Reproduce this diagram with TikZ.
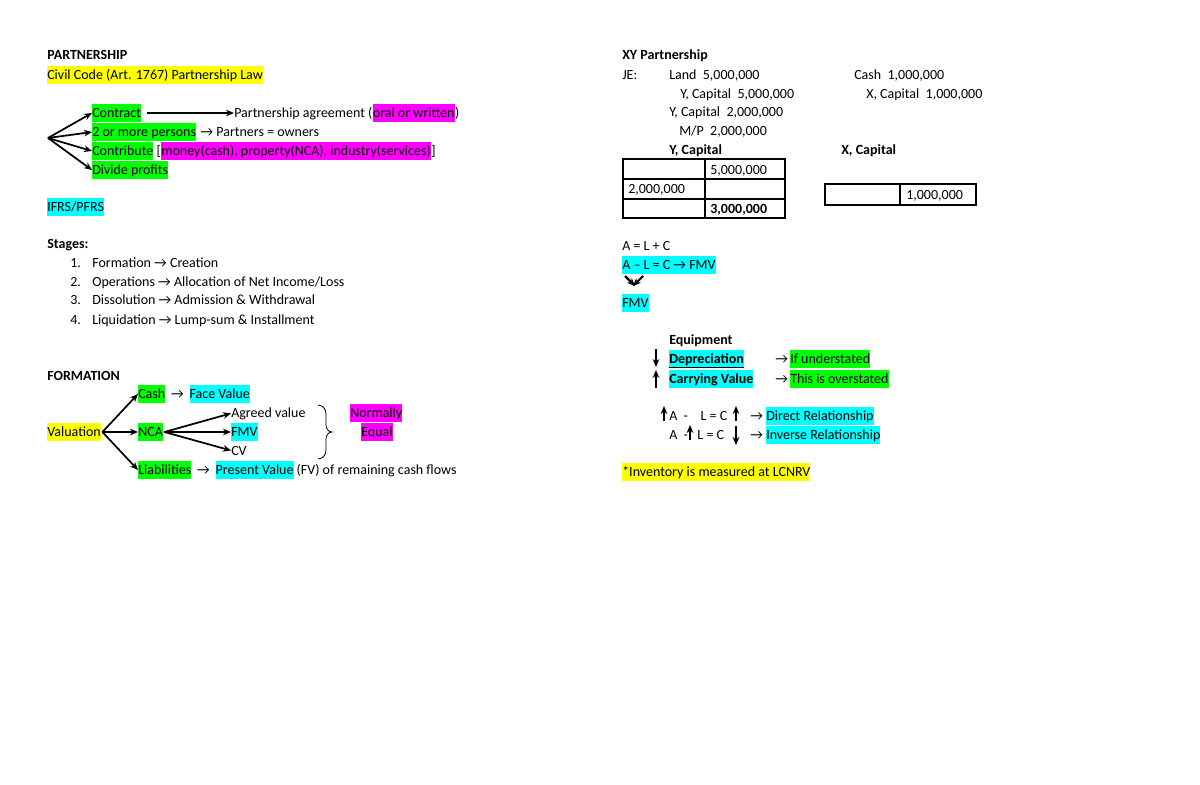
\documentclass[tikz,border=0pt]{standalone}
\usepackage{fontspec}
\setmainfont{Carlito}
\usetikzlibrary{arrows.meta}
\begin{document}
\begin{tikzpicture}[x=0.75pt,y=-0.75pt,font=\fontsize{10.5pt}{12pt}\selectfont,
  t/.style={inner sep=0pt,anchor=base west},
  hl/.style={t,inner ysep=1.5pt,text height=8.5pt,text depth=2.5pt,fill=#1},
  ar/.style={-{Stealth[length=6pt,width=5pt]},line width=1.3pt},
  tb/.style={draw,line width=0.8pt}]
\useasboundingbox (0,0) rectangle (1200,785);
\definecolor{hy}{RGB}{255,255,0}\definecolor{hg}{RGB}{0,255,0}
\definecolor{hm}{RGB}{255,0,255}\definecolor{hc}{RGB}{0,255,255}
% left column
\node[t,font=\bfseries\fontsize{10.5pt}{12pt}\selectfont] (p) at (47,60) {PARTNERSHIP};
\node[hl=hy] (cc) at (47,79) {Civil Code (Art. 1767) Partnership Law};
\coordinate (o1) at (48,138);
\node[hl=hg] (c1) at (92,117) {Contract};
\node[t] (pa) at (234,117) {Partnership agreement (};
\node[hl=hm] (ow) at (pa.base east) {oral or written};
\node[t] at (ow.base east) {)};
\draw[-{Stealth[length=6pt,width=5pt]},line width=0.9pt] (c1.east)+(6,0) -- (pa.west|-c1.east);
\node[hl=hg] (c2) at (92,136) {2 or more persons};
\node[t] at ([xshift=3pt]c2.base east) {→ Partners = owners};
\node[hl=hg] (c3) at (92,155) {Contribute};
\node[t] (lb) at ([xshift=2pt]c3.base east) {[};
\node[hl=hm] (mo) at (lb.base east) {money(cash), property(NCA), industry(services)};
\node[t] at (mo.base east) {]};
\node[hl=hg] (c4) at (92,174) {Divide profits};
\foreach \n in {c1,c2,c3,c4} \draw[ar] (o1) -- (\n.west);
\node[hl=hc] (if) at (47,211) {IFRS/PFRS};
\node[t,font=\bfseries\fontsize{10.5pt}{12pt}\selectfont] (st) at (47,248) {Stages:};
\node[t] (s1n) at (70,267) {1.}; \node[t] (s1) at (92,267) {Formation → Creation};
\node[t] (s2n) at (70,286) {2.}; \node[t] (s2) at (92,286) {Operations → Allocation of Net Income/Loss};
\node[t] (s3n) at (70,304) {3.}; \node[t] (s3) at (92,304) {Dissolution → Admission \& Withdrawal};
\node[t] (s4n) at (70,324) {4.}; \node[t] (s4) at (92,324) {Liquidation → Lump-sum \& Installment};
\node[t,font=\bfseries\fontsize{10.5pt}{12pt}\selectfont] (fo) at (47,380) {FORMATION};
\node[hl=hy] (va) at (47,436) {Valuation};
\node[hl=hg] (ca) at (138,398) {Cash};
\node[t] (ca2) at ([xshift=4pt]ca.base east) {→};
\node[hl=hc] (fv) at ([xshift=4pt]ca2.base east) {Face Value};
\node[hl=hg] (nca) at (138,436) {NCA};
\node[hl=hg] (li) at (138,474) {Liabilities};
\node[t] (li2) at ([xshift=4pt]li.base east) {→};
\node[hl=hc] (pv) at ([xshift=4pt]li2.base east) {Present Value};
\node[t] at ([xshift=2pt]pv.base east) {(FV) of remaining cash flows};
\node[t] (ag) at (231,417) {Agreed value};
\node[hl=hc] (fm) at (231,436) {FMV};
\node[t] (cv) at (231,455) {CV};
\node[hl=hm] (nm) at (350,417) {Normally};
\node[hl=hm] (eq) at (361,436) {Equal};
\coordinate (v0) at ([xshift=1pt]va.east);
\draw[ar] (v0) -- (ca.west); \draw[ar] (v0) -- (nca.west); \draw[ar] (v0) -- (li.west);
\coordinate (n0) at ([xshift=1pt]nca.east);
\draw[ar] (n0) -- (ag.west); \draw[ar] (n0) -- (fm.west); \draw[ar] (n0) -- (cv.west);
\draw[line width=0.6pt] (318,405) to[out=0,in=90] (326,414) -- (326,425) to[out=-90,in=180] (332,432) to[out=180,in=90] (326,439) -- (326,450) to[out=-90,in=0] (318,459);
% right column
\node[t,font=\bfseries\fontsize{10.5pt}{12pt}\selectfont] (xy) at (622,60) {XY Partnership};
\node[t] (je) at (622,79) {JE:};
\node[t] (j1) at (669,79) {Land\ \ 5,000,000};
\node[t] (j2) at (680,98) {Y, Capital\ \ 5,000,000};
\node[t] (j3) at (669,116) {Y, Capital\ \ 2,000,000};
\node[t] (j4) at (679,135) {M/P\ \ 2,000,000};
\node[t] (j5) at (854,79) {Cash\ \ 1,000,000};
\node[t] (j6) at (866,98) {X, Capital\ \ 1,000,000};
\node[t,font=\bfseries\fontsize{10.5pt}{12pt}\selectfont] (yc) at (669,154) {Y, Capital};
\node[t,font=\bfseries\fontsize{10.5pt}{12pt}\selectfont] (xc) at (841,154) {X, Capital};
\draw[tb] (623,159) rectangle (785,218);
\draw[tb] (705,159) -- (705,218) (623,179) -- (785,179) (623,199) -- (785,199);
\node[t] (y1) at (710,174) {5,000,000};
\node[t] (y2) at (628,193) {2,000,000};
\node[t,font=\bfseries\fontsize{10.5pt}{12pt}\selectfont] (y3) at (710,213) {3,000,000};
\draw[tb] (825,184) rectangle (976,205) (900,184) -- (900,205);
\node[t] (x1) at (906,199) {1,000,000};
\node[t] (e1) at (622,250) {A = L + C};
\node[hl=hc] (e2) at (622,269) {A – L = C → FMV};
\node[hl=hc] (e3) at (622,307) {FMV};
\draw[ar,line width=1.6pt] (625,276) -- (635,286);
\draw[ar,line width=1.6pt] (643,276) -- (633,286);
\node[t,font=\bfseries\fontsize{10.5pt}{12pt}\selectfont] (eqp) at (669,344) {Equipment};
\node[hl=hc,font=\bfseries\fontsize{10.5pt}{12pt}\selectfont] (de) at (669,363) {\underline{Depreciation}};
\node[hl=hc,font=\bfseries\fontsize{10.5pt}{12pt}\selectfont] (cvv) at (669,383) {Carrying Value};
\node[t] (a1) at (775,363) {→}; \node[hl=hg] (un) at (790,363) {If understated};
\node[t] (a2) at (775,383) {→}; \node[hl=hg] (ov) at (790,383) {This is overstated};
\draw[ar] (656,349) -- (656,367);
\draw[ar] (656,388) -- (656,370);
\node[t] (r1) at (669,420) {A\ \ -\ \ \ \ L = C};
\draw[ar] (664,421) -- (664,406);
\draw[ar] (736,421) -- (736,406);
\node[t] (a3) at (750,420) {→};
\node[hl=hc] (dr) at (766,420) {Direct Relationship};
\node[t] (r2) at (669,439) {A\ \ -\ \ \ L = C};
\draw[ar] (690,440) -- (690,425);
\draw[ar] (736,426) -- (736,445);
\node[t] (a4) at (750,439) {→};
\node[hl=hc] (ir) at (766,439) {Inverse Relationship};
\node[hl=hy] (inv) at (622,476) {*Inventory is measured at LCNRV};
\end{tikzpicture}
\end{document}
